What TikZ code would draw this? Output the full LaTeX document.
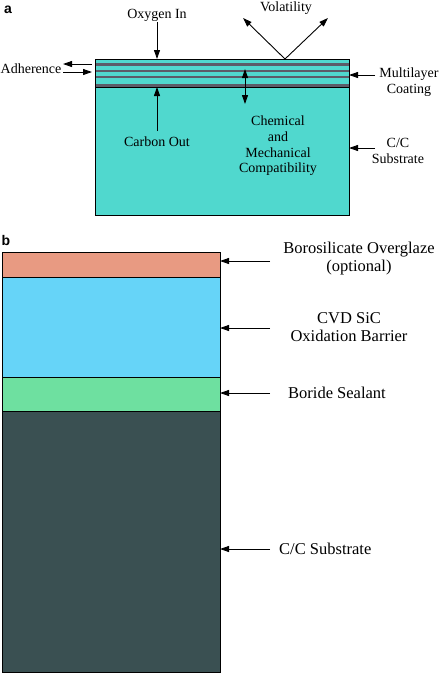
\documentclass[tikz,border=0pt]{standalone}
\usepackage{fontspec}
\setmainfont{Liberation Serif}
\newfontfamily\labelfont{Liberation Sans}
\usetikzlibrary{arrows.meta}
\definecolor{MyCyan}{RGB}{80, 216, 206}
\definecolor{MyStripe}{RGB}{92, 92, 104}
\definecolor{MyGlaze}{RGB}{232, 154, 130}
\definecolor{MySiC}{RGB}{102, 212, 248}
\definecolor{MyBoride}{RGB}{110, 224, 160}
\definecolor{MySub}{RGB}{58, 80, 82}
\newcommand{\lw}{0.9pt}

\begin{document}
\begin{tikzpicture}[x=1pt, y=-1pt,
  every node/.append style={inner sep=0pt, align=center},
  txa/.style={font=\fontsize{14}{15.7}\selectfont},
  txb/.style={font=\fontsize{16.5}{18}\selectfont},
  panel/.style={font=\labelfont\bfseries\fontsize{14}{14}\selectfont},
  tip/.style={-{Triangle[length=9pt, width=6pt]}, line width=\lw},
  dtip/.style={{Triangle[length=9pt, width=6pt]}-{Triangle[length=9pt, width=6pt]}, line width=\lw}]
  \useasboundingbox (0,0) rectangle (440,673);

  % panel a
  \node[panel] (pa) at (8,10) {a};
  \fill[MyCyan] (95,59) rectangle (349,215);
  \foreach \y in {63.3, 69.5, 75.8, 84.2}
    \fill[MyStripe] (95,\y) rectangle (349,\y+2.6);
  \draw[line width=\lw] (95,59) rectangle (349,215);
  \draw[line width=0.5pt] (95,86.8) -- (349,86.8);

  \node[txa] (ox)   at (157,15)  {Oxygen In};
  \node[txa] (cout) at (157,142) {Carbon Out};
  \node[txa] (vol)  at (286,8)   {Volatility};
  \node[txa] (adh)  at (31,69)   {Adherence};
  \node[txa] (mlc)  at (409,82)  {Multilayer\\Coating};
  \node[txa] (ccsa) at (398,151) {C/C\\Substrate};
  \node[txa] (chem) at (278,146) {Chemical\\and\\Mechanical\\Compatibility};

  \coordinate (oxout) at (157,22);
  \coordinate (oxin)  at (157,59);
  \coordinate (cin)   at (157,87);
  \coordinate (cend)  at (157,131);
  \coordinate (vbase) at (285,59);
  \coordinate (vl)    at (243,18);
  \coordinate (vr)    at (328,18);
  \coordinate (ctop)  at (245,69);
  \coordinate (cbot)  at (245,104);
  \coordinate (adhl1) at (63,64);
  \coordinate (adhr1) at (92,64);
  \coordinate (adhl2) at (63,72);
  \coordinate (adhr2) at (92,72);
  \coordinate (mlcout) at (375,75);
  \coordinate (mlcin)  at (349,75);
  \coordinate (ccaout) at (375,148);
  \coordinate (ccain)  at (349,148);

  \draw[tip] (oxout) -- (oxin);
  \draw[tip] (cend) -- (cin);
  \draw[tip] (vbase) -- (vl);
  \draw[tip] (vbase) -- (vr);
  \draw[dtip] (ctop) -- (cbot);
  \draw[tip] (adhr1) -- (adhl1);
  \draw[tip] (adhl2) -- (adhr2);
  \draw[tip] (mlcout) -- (mlcin);
  \draw[tip] (ccaout) -- (ccain);

  % panel b
  \node[panel] (pb) at (6,240) {b};
  \fill[MyGlaze]  (2,252) rectangle (220,277);
  \fill[MySiC]    (2,277) rectangle (220,377);
  \fill[MyBoride] (2,377) rectangle (220,411);
  \fill[MySub]    (2,411) rectangle (220,672);
  \foreach \y in {277, 377, 411}
    \draw[line width=0.6pt] (2,\y) -- (220,\y);
  \draw[line width=\lw] (2,252) rectangle (220,672);

  \node[txb] (glaze)  at (359,259) {Borosilicate Overglaze\\(optional)};
  \node[txb] (sic)    at (349,327) {CVD SiC\\Oxidation Barrier};
  \node[txb, anchor=west] (boride) at (288,393) {Boride Sealant};
  \node[txb, anchor=west] (ccsb)   at (279,549) {C/C Substrate};

  \foreach \y/\n in {261/glz, 328/sc, 393/bd, 549/sb} {
    \coordinate (\n out) at (270,\y);
    \coordinate (\n in)  at (220,\y);
    \draw[tip] (\n out) -- (\n in);
  }
\end{tikzpicture}
\end{document}
